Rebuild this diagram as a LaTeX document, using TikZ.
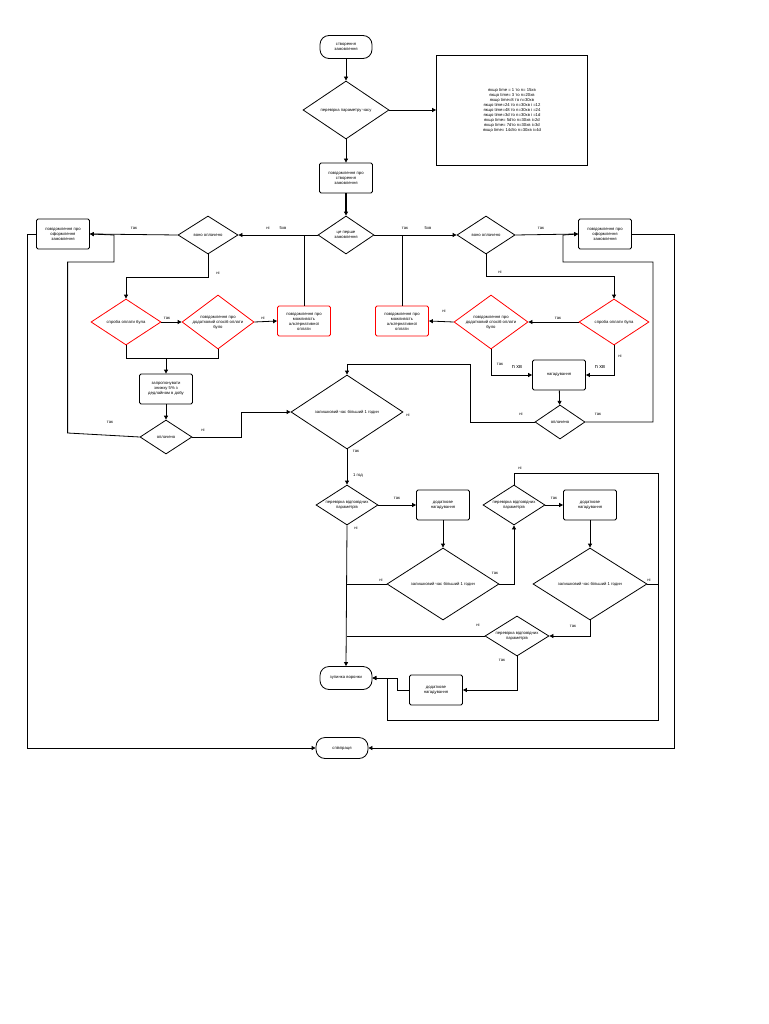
\documentclass[tikz,border=0pt]{standalone}
\usepackage{fontspec}
\setmainfont{Liberation Sans}
\usetikzlibrary{shapes.geometric,arrows.meta}
\begin{document}
\begin{tikzpicture}[x=1pt,y=-1pt,line width=0.8pt,
  every node/.style={font=\fontsize{4.2}{5}\selectfont,align=center},
  term/.style={draw,rounded corners=9pt,minimum width=52pt,minimum height=23pt},
  box/.style={draw,rounded corners=1.5pt,minimum width=53pt,minimum height=30pt,inner sep=1pt},
  rbox/.style={box,draw=red},
  dia/.style 2 args={draw,diamond,minimum width=#1,minimum height=#2,inner sep=0pt},
  lbl/.style={font=\fontsize{4.2}{5}\selectfont},
  arr/.style={-{Triangle[length=4pt,width=4pt]}}]
\useasboundingbox (0,0) rectangle (768,1024);
% top part
\node[term] (start) at (346,47) {створення\\замовлення};
\node[dia={86pt}{58pt},label={center:перевірка параметру часу}] (time) at (346,110) {};
\node[draw,minimum width=151pt,minimum height=110pt] (info) at (512,110) {якщо time = 1 то n= 15хв\\якщо time= 3 то n=20хв\\якщо time=8 то n=30хв\\якщо time=24 то n=30хв і =12\\якщо time=48 то n=30хв і =24\\якщо time=3d то n=30хв і =1d\\якщо time= 5dто n=30хв і=2d\\якщо time= 7dто n=30хв і=3d\\якщо time= 14dто n=30хв і=4d};
\node[box] (created) at (346,178) {повідомлення про\\створення\\замовлення};
\node[dia={56pt}{38pt},label={center:{це перше\\замовлення}}] (first) at (346,235) {};
\node[dia={60pt}{38pt},label={center:воно оплачено}] (paidL) at (208,235) {};
\node[dia={58pt}{38pt},label={center:воно оплачено}] (paidR) at (486,235) {};
\node[box] (doneL) at (63,234) {повідомлення про\\оформлення\\замовлення};
\node[box] (doneR) at (605,234) {повідомлення про\\оформлення\\замовлення};
% red branch
\node[dia={70pt}{46pt},draw=red,label={center:спроба оплати була}] (tryL) at (126,322) {};
\node[dia={72pt}{54pt},draw=red,label={center:{повідомлення про\\додатковий спосіб оплати\\було}}] (altL) at (218,322) {};
\node[rbox] (msgL) at (304,321) {повідомлення про\\можливість\\альтернативної\\оплати};
\node[rbox] (msgR) at (402,321) {повідомлення про\\можливість\\альтернативної\\оплати};
\node[dia={74pt}{54pt},draw=red,label={center:{повідомлення про\\додатковий спосіб оплати\\було}}] (altR) at (491,322) {};
\node[dia={70pt}{46pt},draw=red,label={center:спроба оплати була}] (tryR) at (614,322) {};
\node[box] (disc) at (166,389) {запропонувати\\знижку 5\% з\\дедлайном в добу};
\node[dia={52pt}{34pt},label={center:оплачено}] (okL) at (166,437) {};
\node[box] (remind) at (559,375) {нагадування};
\node[dia={50pt}{34pt},label={center:оплачено}] (okR) at (560,422) {};
% lower part
\node[dia={112pt}{74pt},label={center:залишковий час більший 1 годин}] (left1) at (347,412) {};
\node[dia={62pt}{40pt},label={center:{перевірка відповідних\\параметрів}}] (chk1) at (347,505) {};
\node[box] (add1) at (443,505) {додаткове\\нагадування};
\node[dia={112pt}{72pt},label={center:залишковий час більший 1 годин}] (left2) at (443,584) {};
\node[dia={62pt}{40pt},label={center:{перевірка відповідних\\параметрів}}] (chk2) at (514,505) {};
\node[box] (add2) at (590,505) {додаткове\\нагадування};
\node[dia={114pt}{72pt},label={center:залишковий час більший 1 годин}] (left3) at (590,584) {};
\node[dia={64pt}{40pt},label={center:{перевірка відповідних\\параметрів}}] (chk3) at (517,636) {};
\node[term] (stop) at (346,678) {зупинка воронки};
\node[box] (add3) at (436,690) {додаткове\\нагадування};
\node[term,minimum height=21pt] (coop) at (342,748) {співпраця};
% connectors
\draw[arr] (start) -- (time);
\draw[arr] (time) -- (created);
\draw[arr] (time.east) -- (info.west);
\draw[arr,line width=1.3pt] (created) -- (first);
\draw[arr] (first.west) -- (paidL.east);
\draw (msgL.north) -- (msgL.north |- first.west);
\draw[arr] (first.east) -- (paidR.west);
\draw (msgR.north) -- (msgR.north |- first.east);
\draw[arr] (paidL.west) -- (doneL.east);
\draw[arr] (okL.west) -- ++(-72,-4) |- (114,262) -- (114,235) -- (doneL.east);
\draw[arr] (paidL.south) |- (126,277) -- (tryL.north);
\draw[arr] (tryL.east) -- (altL.west);
\draw[arr] (altL.east) -- (msgL.west);
\draw (tryL.south) |- (166,358);
\draw[arr] (altL.south) |- (166,358) -- (disc.north);
\draw[arr] (disc) -- (okL);
\draw[arr] (okL.east) -| (241,412) -- (left1.west);
\draw[arr] (doneL.west) -| (27,748) -- (coop.west);
\draw[arr] (doneR.east) -| (674,748) -- (coop.east);
\draw[arr] (paidR.east) -- (doneR.west);
\draw[arr] (okR.east) -| (653,262) -| (563,235) -- (doneR.west);
\draw[arr] (paidR.south) |- (614,276) -- (tryR.north);
\draw[arr] (tryR.west) -- (altR.east);
\draw[arr] (altR.west) -- (msgR.east);
\draw[arr] (altR.south) |- (remind.west);
\draw[arr] (tryR.south) |- (remind.east);
\draw[arr] (remind) -- (okR);
\draw[arr] (okR.west) -| (470,364) -| (left1.north);
\draw[arr] (left1.south) -- (chk1.north);
\draw[arr] (chk1.east) -- (add1.west);
\draw[arr] (add1.south) -- (left2.north);
\draw[arr] (chk1.south) -- (stop.north);
\draw (left2.west) -- (347,584);
\draw[arr] (left2.east) -| (chk2.south);
\draw[arr] (chk2.east) -- (add2.west);
\draw[arr] (chk2.north) |- (658,473) |- (387,720) |- (stop.east);
\draw[arr] (add2.south) -- (left3.north);
\draw (left3.east) -- (658,584);
\draw[arr] (left3.south) |- (chk3.east);
\draw (chk3.west) -- (347,636);
\draw[arr] (chk3.south) |- (add3.east);
\draw[arr] (add3.west) -| (397,678) -- (stop.east);
% labels
\node[lbl] at (268,228) {ні}; \node[lbl] at (283,228) {5хв};
\node[lbl] at (405,228) {так}; \node[lbl] at (428,228) {5хв};
\node[lbl] at (134,228) {так}; \node[lbl] at (541,228) {так};
\node[lbl] at (110,422) {так}; \node[lbl] at (218,273) {ні};
\node[lbl] at (167,318) {так}; \node[lbl] at (263,318) {ні};
\node[lbl] at (203,430) {ні}; \node[lbl] at (500,272) {ні};
\node[lbl] at (558,318) {так}; \node[lbl] at (444,311) {ні};
\node[lbl] at (500,364) {так}; \node[lbl,font=\fontsize{5.5}{6}\selectfont] at (517,367) {n хв};
\node[lbl] at (620,356) {ні}; \node[lbl,font=\fontsize{5.5}{6}\selectfont] at (600,367) {n хв};
\node[lbl] at (521,414) {ні}; \node[lbl] at (598,414) {так};
\node[lbl] at (408,415) {ні}; \node[lbl] at (356,451) {так};
\node[lbl] at (358,475) {1 год}; \node[lbl] at (397,498) {так};
\node[lbl] at (356,528) {ні}; \node[lbl] at (381,580) {ні};
\node[lbl] at (495,573) {так}; \node[lbl] at (554,498) {так};
\node[lbl] at (520,468) {ні}; \node[lbl] at (649,580) {ні};
\node[lbl] at (573,626) {так}; \node[lbl] at (478,625) {ні};
\node[lbl] at (502,660) {так};
\end{tikzpicture}
\end{document}
